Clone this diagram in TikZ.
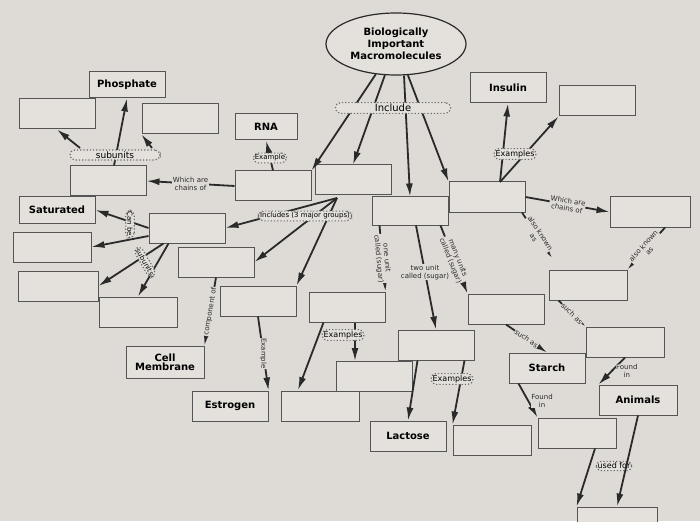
\documentclass[tikz,border=0pt]{standalone}
\usepackage{fontspec}
\setmainfont{DejaVu Sans}
\usetikzlibrary{arrows.meta,shapes.geometric}
\definecolor{paper}{HTML}{DEDBD6}
\definecolor{boxf}{HTML}{E4E1DC}
\definecolor{ink}{HTML}{2A2A2A}
\tikzset{
 bx/.style={draw=ink!80,fill=boxf,line width=1pt,minimum width=76pt,minimum height=30pt,inner sep=1pt},
 tb/.style={bx,font=\bfseries,align=center},
 dl/.style={draw=ink!70,dotted,line width=1.2pt,rounded corners=5pt,fill=boxf,inner sep=1.5pt,font=\footnotesize},
 ar/.style={-{Latex[length=13pt,width=7pt]},line width=1.8pt,draw=ink},
 ln/.style={line width=1.8pt,draw=ink},
 lb/.style={font=\scriptsize,fill=paper,inner sep=0.5pt,align=center,text=ink}
}
\begin{document}
\begin{tikzpicture}[x=1pt,y=-1pt]
\fill[paper] (0,0) rectangle (700,521);
\useasboundingbox (0,0) rectangle (700,521);
\node[ellipse,draw=ink,line width=1.2pt,fill=boxf,minimum width=140pt,minimum height=62pt,font=\bfseries,align=center,inner sep=0pt] (top) at (396,44) {Biologically\\Important\\Macromolecules};
\node[tb,minimum height=26pt] (phos) at (127,85) {Phosphate};
\node[bx] (a1) at (57,114) {};
\node[bx] (a2) at (180,119) {};
\node[tb,minimum width=62pt,minimum height=26pt] (rna) at (266,127) {RNA};
\node[tb] (ins) at (508,88) {Insulin};
\node[bx] (i2) at (597,101) {};
\node[bx] (b) at (108,181) {};
\node[bx] (c) at (273,186) {};
\node[bx] (d) at (353,180) {};
\node[bx,minimum height=28pt] (e) at (410,211) {};
\node[bx] (f) at (487,197) {};
\node[bx,minimum width=80pt] (g) at (650,212) {};
\node[tb,minimum height=26pt] (sat) at (57,210) {Saturated};
\node[bx] (h) at (187,228) {};
\node[bx,minimum width=78pt] (i) at (52,247) {};
\node[bx,minimum width=80pt] (j) at (58,286) {};
\node[bx] (k) at (216,262) {};
\node[bx,minimum width=78pt] (l) at (138,312) {};
\node[bx] (m) at (258,301) {};
\node[bx] (n) at (347,307) {};
\node[bx,minimum width=78pt] (o) at (588,285) {};
\node[bx] (p) at (506,309) {};
\node[bx] (q) at (436,345) {};
\node[bx,minimum width=78pt] (r) at (625,342) {};
\node[tb,minimum width=78pt,minimum height=32pt,inner sep=0pt] (cell) at (165,362) {Cell\\[-3pt]Membrane};
\node[bx] (s) at (374,376) {};
\node[tb] (starch) at (547,368) {Starch};
\node[tb,minimum width=78pt] (anim) at (638,400) {Animals};
\node[tb] (estr) at (230,406) {Estrogen};
\node[bx,minimum width=78pt] (t) at (320,406) {};
\node[tb] (lac) at (408,436) {Lactose};
\node[bx,minimum width=78pt] (u) at (492,440) {};
\node[bx,minimum width=78pt] (v) at (577,433) {};
\node[bx,minimum width=80pt] (w) at (617,522) {};
% title arrows
\draw[ar] (top) -- (c.north east);
\draw[ar] (top) -- (d.north);
\draw[ar] (top.south) ++(8,0) -- (e.north);
\draw[ar] (top) -- (f.north west);
\node[dl,minimum width=115pt,font=\normalsize] (inc) at (393,108) {Include};
% phosphate
\coordinate (subnw) at (80,148);
\coordinate (subne) at (152,148);
\draw[ar] (b.north) ++(6,0) -- (phos.south);
\draw[ar] (subnw) -- (a1.south);
\draw[ar] (subne) -- (a2.south west);
\node[dl,minimum width=90pt,font=\small] (sub) at (115,155) {subunits};
% RNA
\draw[ar] (c.north) -- (rna.south);
\node[dl,font=\scriptsize] at (270,158) {Example};
\draw[ar] (c.west) -- node[lb] {Which are\\chains of} (b.east);
% insulin
\coordinate (fx) at (500,182);
\draw[ar] (fx) -- (ins.south);
\draw[ar] (fx) -- (i2.south west);
\node[dl] at (515,154) {Examples};
\draw[ar] (f.east) -- node[lb,sloped] {Which are\\chains of} (g.west);
\draw[ar] (f.south) ++(35,0) -- node[lb,sloped] {also known\\as} (552,258);
\draw[ar] (g.south) ++(15,0) -- node[lb,sloped] {also known\\as} (o.north east);
% lipids
\coordinate (dl) at (337,198);
\draw[ar] (dl) -- (h.east);
\draw[ar] (dl) -- (k.east);
\draw[ar] (dl) -- (m.north east);
\node[dl,font=\scriptsize] at (305,216) {Includes (3 major groups)};
\draw[ar] (h.west) -- (sat.east);
\draw[ar] (h.west) ++(0,8) -- (i.east);
\node[dl,rotate=-90,font=\scriptsize] at (130,224) {Can be};
\draw[ar] (h.south west) ++(15,0) -- (j.east);
\draw[ar] (h.south west) ++(20,0) -- (l.north);
\node[dl,rotate=-60,font=\scriptsize] at (145,262) {subunits};
\draw[ar] (k.south) -- node[lb,sloped] {component of} (cell.north east);
\draw[ar] (m.south) -- node[lb,rotate=-90] {Example} (estr.north east);
% carbs
\draw[ar] (e.south west) ++(8,0) -- node[lb,sloped] {one unit\\called (sugar)} (n.north east);
\draw[ar] (e.south) ++(6,0) -- node[lb,pos=0.45] {two unit\\called (sugar)} (q.north);
\draw[ar] (e.south east) ++(-8,0) -- node[lb,sloped] {many units\\called (sugar)} (p.north west);
\draw[ar] (n.south) ++(8,0) -- (355,361);
\draw[ar] (n.south west) ++(15,0) -- (298,390);
\node[dl] at (343,335) {Examples};
\draw[ar] (q.south west) ++(20,0) -- (lac.north);
\draw[ar] (q.south east) ++(-10,0) -- (u.north west);
\node[dl] at (452,379) {Examples};
\draw[ar] (p.south) -- node[lb,sloped] {such as} (starch.north);
\draw[ar] (o.south west) ++(10,0) -- node[lb,sloped] {such as} (r.north west);
\draw[ar] (r.south) -- node[lb,right=3pt] {Found\\in} (anim.north west);
\draw[ar] (starch.south west) ++(10,0) -- node[lb,right=2pt] {Found\\in} (v.north west);
\draw[ar] (v.south) ++(18,0) -- (w.north west);
\node[dl] at (614,466) {used for};
\draw[ar] (anim.south) -- (w.north);
\end{tikzpicture}
\end{document}
